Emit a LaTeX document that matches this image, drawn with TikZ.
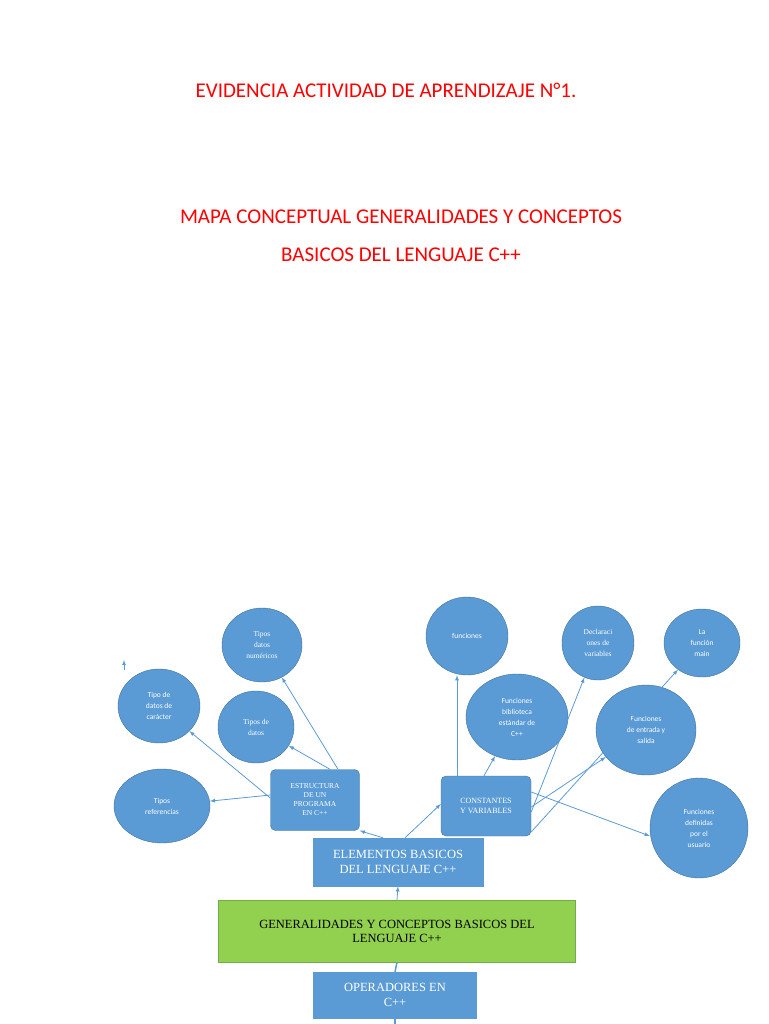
\documentclass[tikz,border=0pt]{standalone}
\usepackage{fontspec}
\usetikzlibrary{shapes.geometric}
\setmainfont{Liberation Serif}
\newfontfamily\carfont{Carlito}
\definecolor{bl}{HTML}{5B9BD5}
\definecolor{bd}{HTML}{41719C}
\definecolor{gr}{HTML}{92D050}
\definecolor{gd}{HTML}{70AD47}
\definecolor{rd}{HTML}{FF0000}
\begin{document}
\begin{tikzpicture}[x=1pt,y=-1pt,
 ell/.style={ellipse,draw=bd,fill=bl,text=white,align=center,font=\fontsize{7.5}{11}\selectfont,inner sep=0pt},
 cell/.style={ell,font=\carfont\fontsize{7.5}{11}\selectfont},
 rbox/.style={draw=bd,fill=bl,text=white,rounded corners=5pt,align=center,font=\fontsize{7.5}{9}\selectfont,inner sep=0pt},
 sbox/.style={draw=bl,fill=bl,text=white,align=center,inner sep=0pt},
 arr/.style={draw=bl,->,>=latex,line width=0.8pt}]
\useasboundingbox (0,0) rectangle (768,1024);
\node[text=rd,font=\carfont\fontsize{21}{25}\selectfont] (t1) at (386,90) {EVIDENCIA ACTIVIDAD DE APRENDIZAJE N°1.};
\node[text=rd,font=\carfont\fontsize{21}{38}\selectfont,align=center] (t2) at (401,236) {MAPA CONCEPTUAL GENERALIDADES Y CONCEPTOS\\BASICOS DEL LENGUAJE C++};
\node[ell,minimum width=80,minimum height=74] (num) at (262,645) {Tipos\\datos\\numéricos};
\node[cell,minimum width=82,minimum height=74] (car) at (159,706) {Tipo de\\datos de\\carácter};
\node[ell,minimum width=76,minimum height=72] (td) at (256,727) {Tipos de\\datos};
\node[cell,minimum width=96,minimum height=74] (ref) at (162,806) {Tipos\\referencias};
\node[rbox,minimum width=89,minimum height=61] (est) at (315,800) {ESTRUCTURA\\DE UN\\PROGRAMA\\EN C++};
\node[cell,minimum width=82,minimum height=78] (fun) at (467,636) {funciones};
\node[cell,minimum width=102,minimum height=86] (bib) at (517,717) {Funciones\\biblioteca\\estándar de\\C++};
\node[ell,minimum width=72,minimum height=74] (dec) at (598,643) {Declaraci\\ones de\\variables};
\node[cell,minimum width=76,minimum height=68] (main) at (702,643) {La\\función\\main};
\node[cell,minimum width=100,minimum height=90] (es) at (646,730) {Funciones\\de entrada y\\salida};
\node[cell,minimum width=98,minimum height=100] (def) at (699,828) {Funciones\\definidas\\por el\\usuario};
\node[rbox,minimum width=90,minimum height=60,font=\fontsize{8}{10}\selectfont] (con) at (486,806) {CONSTANTES\\Y VARIABLES};
\node[sbox,minimum width=170,minimum height=48,font=\fontsize{12.5}{15}\selectfont] (ele) at (398,862) {ELEMENTOS BASICOS\\DEL LENGUAJE C++};
\node[draw=gd,fill=gr,align=center,inner sep=0pt,minimum width=357,minimum height=62,font=\fontsize{12.5}{14}\selectfont] (gen) at (397,931) {GENERALIDADES Y CONCEPTOS BASICOS DEL\\LENGUAJE C++};
\node[sbox,minimum width=163,minimum height=46,font=\fontsize{12.5}{15}\selectfont] (op) at (395,995) {OPERADORES EN\\C++};
\coordinate (s1) at (124,670); \coordinate (s2) at (124,660);
\draw[arr] (s1) -- (s2);
\coordinate (o1) at (395,1024);
\draw[draw=bl,line width=1.5pt] (op.south) -- (o1);
\draw[draw=bl,line width=1.5pt] (gen.south) -- (op.north);
\draw[arr] (gen.north) -- (ele.south);
\draw[arr] ([xshift=-15]ele.north) -- (est.south east);
\draw[arr] ([xshift=7]ele.north) -- ([yshift=2]con.west);
\draw[arr] ([xshift=23]est.north) -- (num);
\draw[arr] ([xshift=15]est.north) -- (td);
\draw[arr] ([yshift=2]est.west) -- (car);
\draw[arr] ([yshift=5]est.west) -- (ref);
\draw[arr] ([xshift=-29]con.north) -- ([xshift=-10]fun.south);
\draw[arr] ([xshift=-2]con.north) -- (bib);
\draw[arr] ([yshift=-26]con.east) -- (main);
\draw[arr] ([yshift=-6]con.east) -- (dec);
\draw[arr] ([yshift=-1]con.east) -- (es);
\draw[arr] ([yshift=14]con.east) -- ([yshift=-8]def.west);
\end{tikzpicture}
\end{document}
